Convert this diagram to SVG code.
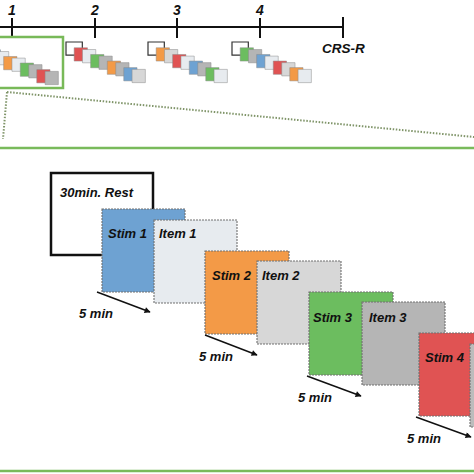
<svg xmlns="http://www.w3.org/2000/svg" width="474" height="474" viewBox="0 0 474 474">
<style>
.lbl{font-family:"Liberation Sans",Arial,sans-serif;font-weight:bold;font-style:italic;font-size:13px;fill:#111}
.num{font-family:"Liberation Sans",Arial,sans-serif;font-weight:bold;font-style:italic;font-size:14px;fill:#111}
.box{stroke:#707070;stroke-width:1.1;stroke-dasharray:2 1}
.tb{stroke:#8a8a8a;stroke-width:0.5;vector-effect:non-scaling-stroke}
.tr{fill:#fff;stroke:#333;stroke-width:1.2;vector-effect:non-scaling-stroke}
.blue{fill:#6ea2d2}.orange{fill:#f39a47}.green{fill:#6cbd5f}.red{fill:#e05353}
.i1{fill:#e7ebef}.i2{fill:#d7d7d7}.i3{fill:#b5b5b5}.i4{fill:#bcbcbc}
.tick{stroke:#111;stroke-width:2}
.gline{stroke:#79ba5b;stroke-width:2.5}
.dots{stroke:#7f9468;stroke-width:2;stroke-dasharray:1.5 1.6;fill:none}
.arr{stroke:#111;stroke-width:1.5;marker-end:url(#ah)}
</style>
<defs>
<marker id="ah" viewBox="0 0 10 10" refX="9" refY="5" markerWidth="9" markerHeight="6" markerUnits="userSpaceOnUse" orient="auto">
<path d="M0,0 L10,5 L0,10 z" fill="#111"/>
</marker>
</defs>
<rect width="474" height="474" fill="#fff"/>

<!-- timeline -->
<g id="timeline">
<line class="tick" x1="0" y1="27" x2="343" y2="27"/>
<line class="tick" x1="12" y1="18" x2="12" y2="37"/>
<line class="tick" x1="95" y1="18" x2="95" y2="38"/>
<line class="tick" x1="177" y1="18" x2="177" y2="38"/>
<line class="tick" x1="260" y1="18" x2="260" y2="38"/>
<line class="tick" x1="343" y1="17" x2="343" y2="38"/>
<text class="num" x="12" y="15" text-anchor="middle">1</text>
<text class="num" x="95" y="15" text-anchor="middle">2</text>
<text class="num" x="177" y="15" text-anchor="middle">3</text>
<text class="num" x="260" y="15" text-anchor="middle">4</text>
<text class="lbl" x="322" y="53" style="font-size:13.5px">CRS-R</text>
</g>

<!-- thumbnails -->
<g id="session1" transform="translate(-21,44) scale(0.16)">
<rect class="tr" x="0" y="0" width="102" height="82"/>
<rect class="blue tb" x="51" y="36" width="83" height="83"/>
<rect class="i1 tb" x="103" y="47" width="83" height="83"/>
<rect class="orange tb" x="154" y="78" width="83" height="83"/>
<rect class="i1 tb" x="206" y="88" width="83" height="83"/>
<rect class="green tb" x="258" y="119" width="83" height="83"/>
<rect class="i3 tb" x="311" y="129" width="83" height="83"/>
<rect class="red tb" x="361" y="160" width="83" height="83"/>
<rect class="i3 tb" x="413" y="171" width="83" height="83"/>
</g>
<g id="session2" transform="translate(66,42) scale(0.16)">
<rect class="tr" x="0" y="0" width="102" height="82"/>
<rect class="red tb" x="51" y="36" width="83" height="83"/>
<rect class="i1 tb" x="103" y="47" width="83" height="83"/>
<rect class="green tb" x="154" y="78" width="83" height="83"/>
<rect class="i3 tb" x="206" y="88" width="83" height="83"/>
<rect class="orange tb" x="258" y="119" width="83" height="83"/>
<rect class="i3 tb" x="311" y="129" width="83" height="83"/>
<rect class="blue tb" x="361" y="160" width="83" height="83"/>
<rect class="i2 tb" x="413" y="171" width="83" height="83"/>
</g>
<g id="session3" transform="translate(148,42) scale(0.16)">
<rect class="tr" x="0" y="0" width="102" height="82"/>
<rect class="orange tb" x="51" y="36" width="83" height="83"/>
<rect class="i2 tb" x="103" y="47" width="83" height="83"/>
<rect class="red tb" x="154" y="78" width="83" height="83"/>
<rect class="i1 tb" x="206" y="88" width="83" height="83"/>
<rect class="blue tb" x="258" y="119" width="83" height="83"/>
<rect class="i3 tb" x="311" y="129" width="83" height="83"/>
<rect class="green tb" x="361" y="160" width="83" height="83"/>
<rect class="i1 tb" x="413" y="171" width="83" height="83"/>
</g>
<g id="session4" transform="translate(232,42) scale(0.16)">
<rect class="tr" x="0" y="0" width="102" height="82"/>
<rect class="green tb" x="51" y="36" width="83" height="83"/>
<rect class="i3 tb" x="103" y="47" width="83" height="83"/>
<rect class="blue tb" x="154" y="78" width="83" height="83"/>
<rect class="i1 tb" x="206" y="88" width="83" height="83"/>
<rect class="red tb" x="258" y="119" width="83" height="83"/>
<rect class="i2 tb" x="311" y="129" width="83" height="83"/>
<rect class="orange tb" x="361" y="160" width="83" height="83"/>
<rect class="i1 tb" x="413" y="171" width="83" height="83"/>
</g>

<!-- zoom frame -->
<g id="zoomframe">
<rect x="-2" y="37" width="65" height="51" fill="none" stroke="#78b958" stroke-width="2.5"/>
<line class="dots" x1="7" y1="92" x2="474" y2="137"/>
<line class="dots" x1="7" y1="92" x2="3" y2="139"/>
<line class="gline" x1="0" y1="148" x2="474" y2="148"/>
<line class="gline" x1="0" y1="471" x2="474" y2="471"/>
</g>

<!-- detail nodes -->
<g id="rest">
<rect x="51" y="173" width="102" height="82" fill="#fff" stroke="#111" stroke-width="2.5"/>
<text class="lbl" x="60" y="197">30min. Rest</text>
</g>
<g id="stim1">
<rect class="box blue" x="102" y="209" width="83" height="83"/>
<text class="lbl" x="108" y="238">Stim 1</text>
</g>
<g id="item1">
<rect class="box i1" x="154" y="220" width="83" height="83"/>
<text class="lbl" x="159" y="238">Item 1</text>
</g>
<g id="stim2">
<rect class="box orange" x="205" y="251" width="84" height="83"/>
<text class="lbl" x="212" y="280">Stim 2</text>
</g>
<g id="item2">
<rect class="box i2" x="257" y="261" width="84" height="83"/>
<text class="lbl" x="262" y="280">Item 2</text>
</g>
<g id="stim3">
<rect class="box green" x="309" y="292" width="84" height="83"/>
<text class="lbl" x="313" y="322">Stim 3</text>
</g>
<g id="item3">
<rect class="box i3" x="362" y="302" width="83" height="83"/>
<text class="lbl" x="369" y="322">Item 3</text>
</g>
<g id="stim4">
<rect class="box red" x="419" y="333" width="83" height="83"/>
<text class="lbl" x="425" y="362">Stim 4</text>
</g>
<g id="item4">
<rect class="box i4" x="470" y="344" width="83" height="83"/>
</g>

<!-- connectors -->
<g id="connectors">
<line class="arr" x1="97" y1="292" x2="150" y2="312"/>
<line class="arr" x1="205" y1="335" x2="257" y2="355"/>
<line class="arr" x1="307" y1="376" x2="361" y2="396"/>
<line class="arr" x1="416" y1="417" x2="471" y2="437"/>
<text class="lbl" x="79" y="318">5 min</text>
<text class="lbl" x="199" y="361">5 min</text>
<text class="lbl" x="298" y="402">5 min</text>
<text class="lbl" x="407" y="443">5 min</text>
</g>
</svg>
